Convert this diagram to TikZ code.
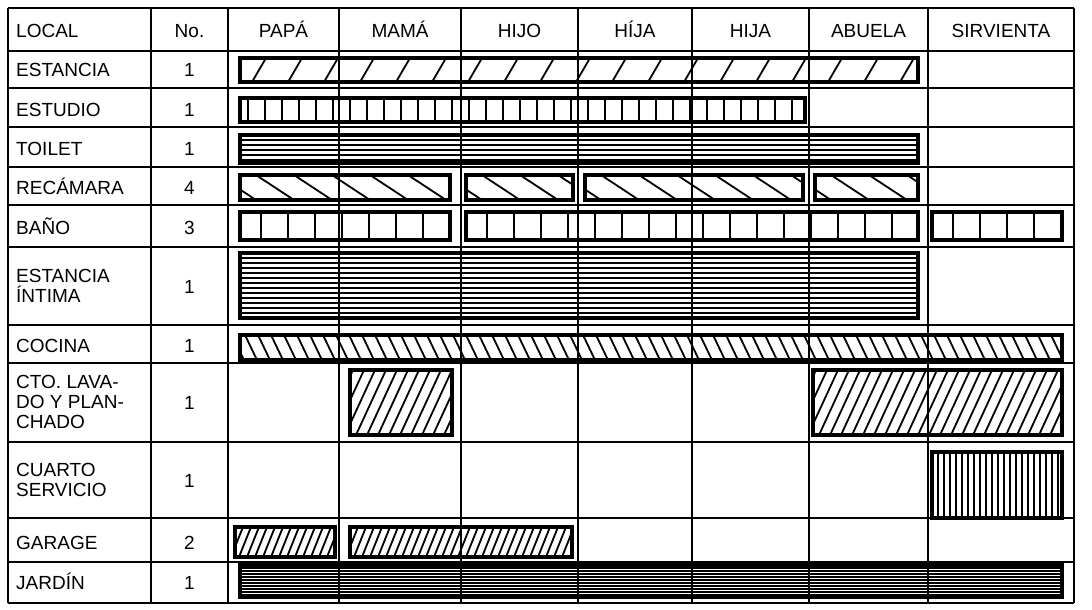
\documentclass[tikz,border=0pt]{standalone}
\usepackage{fontspec}
\setmainfont{Liberation Sans}
\newcommand\hatchbox[7]{% x1 y1 x2 y2 type step slant
 \pgfmathsetmacro\hxa{#1-60}\pgfmathsetmacro\hxb{#1-60+#6}\pgfmathsetmacro\hxc{#3+60}
 \pgfmathsetmacro\hya{#2}\pgfmathsetmacro\hyb{#2+#6}\pgfmathsetmacro\hyc{#4}
 \begin{scope}
 \clip (#1,#2) rectangle (#3,#4);
 \ifnum#5=1 \foreach \t in {\hxa,\hxb,...,\hxc} \draw[hl] (\t,#4)--++(#7,#2-#4);\fi
 \ifnum#5=2 \foreach \t in {\hxa,\hxb,...,\hxc} \draw[hl] (\t,#2)--++(#7,#4-#2);\fi
 \ifnum#5=3 \foreach \t in {\hxa,\hxb,...,\hxc} \draw[hl] (\t,#2)--(\t,#4);\fi
 \ifnum#5=4 \foreach \t in {\hya,\hyb,...,\hyc} \draw[hl] (#1,\t)--(#3,\t);\fi
 \end{scope}
 \draw[bar] (#1,#2) rectangle (#3,#4);}
\begin{document}
\begin{tikzpicture}[x=1pt,y=-1pt,
 grid/.style={line width=1.3pt},
 hl/.style={line width=1.8pt},
 bar/.style={line width=4pt},
 lab/.style={font=\fontsize{19}{20}\selectfont,inner sep=0pt,anchor=base west,align=left},
 hd/.style={font=\fontsize{19}{20}\selectfont,inner sep=0pt,anchor=base}]
\fill[white] (0,0) rectangle (1092,610);
\useasboundingbox (0,0) rectangle (1092,610);
% grid
\foreach \x in {8,151,228,339,461,578,692,809,928,1074} \draw[grid] (\x,8)--(\x,603);
\foreach \y in {8,51,88,127,167,205,247,325,363,442,518,562,603} \draw[grid] (8,\y)--(1074,\y);
% headers
\node[lab] (h0) at (16,38) {LOCAL};
\node[hd] (h1) at (189.5,38) {No.};
\node[hd] (h2) at (283.5,38) {PAPÁ};
\node[hd] (h3) at (400,38) {MAMÁ};
\node[hd] (h4) at (519.5,38) {HIJO};
\node[hd] (h5) at (635,38) {HÍJA};
\node[hd] (h6) at (750.5,38) {HIJA};
\node[hd] (h7) at (868.5,38) {ABUELA};
\node[hd] (h8) at (1001,38) {SIRVIENTA};
% row labels
\node[lab] (r1) at (16,77) {ESTANCIA};
\node[lab] (r2) at (16,116) {ESTUDIO};
\node[lab] (r3) at (16,155) {TOILET};
\node[lab] (r4) at (16,194) {RECÁMARA};
\node[lab] (r5) at (16,234) {BAÑO};
\node[lab,anchor=west] (r6) at (16,286) {ESTANCIA\\ÍNTIMA};
\node[lab] (r7) at (16,352) {COCINA};
\node[lab,anchor=west] (r8) at (16,402) {CTO. LAVA-\\DO Y PLAN-\\CHADO};
\node[lab,anchor=west] (r9) at (16,480) {CUARTO\\SERVICIO};
\node[lab] (r10) at (16,549) {GARAGE};
\node[lab] (r11) at (16,589) {JARDÍN};
\foreach \y/\n [count=\i] in {77/1,116/1,155/1,194/4,234/3,293/1,352/1,409/1,487/1,549/2,589/1}
 \node[hd] (n\i) at (189.5,\y) {\n};
% bars
\hatchbox{240}{58}{918}{82}{1}{36}{14}
\hatchbox{240}{98}{805}{122}{3}{17}{0}
\hatchbox{240}{135}{918}{163}{4}{5}{0}
\hatchbox{240}{175}{450}{200}{2}{38}{38}
\hatchbox{466}{175}{573}{200}{2}{38}{38}
\hatchbox{585}{175}{803}{200}{2}{38}{38}
\hatchbox{815}{175}{918}{200}{2}{38}{38}
\hatchbox{240}{212}{450}{240}{3}{27}{0}
\hatchbox{466}{212}{918}{240}{3}{27}{0}
\hatchbox{932}{212}{1062}{240}{3}{27}{0}
\hatchbox{240}{253}{918}{318}{4}{5}{0}
\hatchbox{240}{335}{1062}{360}{2}{13}{12}
\hatchbox{350}{370}{452}{435}{1}{11}{30}
\hatchbox{813}{370}{1062}{435}{1}{11}{30}
\hatchbox{932}{452}{1062}{518}{3}{6}{0}
\hatchbox{235}{527}{335}{557}{1}{8}{12}
\hatchbox{350}{527}{572}{557}{1}{8}{12}
\hatchbox{240}{565}{1062}{597}{4}{3}{0}
\end{tikzpicture}
\end{document}
